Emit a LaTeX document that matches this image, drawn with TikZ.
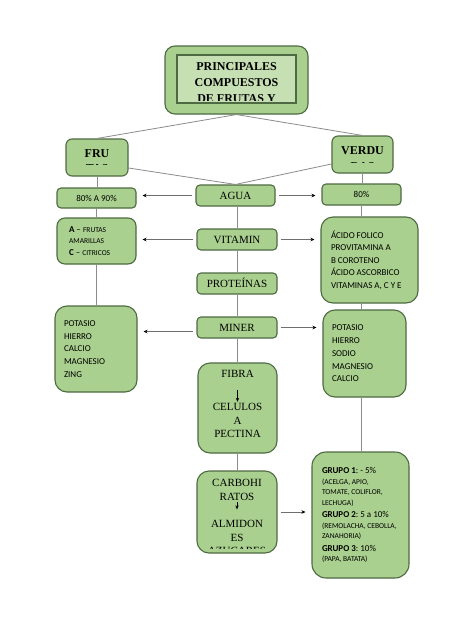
\documentclass[tikz,border=0pt]{standalone}
\usepackage{fontspec}
\setmainfont{Liberation Serif}
\newfontfamily\calfont{Carlito}
\usetikzlibrary{arrows.meta}
\definecolor{boxfill}{HTML}{A9D08E}
\definecolor{boxline}{HTML}{4E6A42}
\definecolor{innerfill}{HTML}{C6E0B4}
\definecolor{linkgray}{HTML}{8C8C8C}
\definecolor{arrgray}{HTML}{6E6E6E}
\newcommand\grsmall{\fontsize{7.5}{10.5}\selectfont}
\frenchspacing
\begin{document}
\begin{tikzpicture}[x=1pt,y=-1pt,
  box/.style={draw=boxline, fill=boxfill, line width=1.1pt, rounded corners=#1, inner sep=0pt},
  box/.default=4pt,
  seriff/.style={font=\fontsize{11}{13.5}\selectfont, text height=7.3pt, text depth=0pt},
  serifb/.style={font=\bfseries\fontsize{12}{14}\selectfont, inner sep=0pt, text height=8pt, text depth=0pt},
  serifm/.style={font=\fontsize{11}{13.5}\selectfont, inner sep=0pt, align=center},
  sansf/.style={font=\calfont\fontsize{9}{11}\selectfont},
  listbox/.style={box=12pt, align=flush left, font=\calfont\fontsize{9}{12.75}\selectfont, inner xsep=9pt},
  link/.style={draw=linkgray, line width=0.8pt},
  arr/.style={draw=arrgray, line width=0.8pt, -{Stealth[length=4pt,width=3.6pt,color=black]}, shorten <=3pt, shorten >=6pt},
  smallarr/.style={draw=black, line width=0.6pt, -{Stealth[length=4pt,width=3.4pt]}}
]
\useasboundingbox (0,0) rectangle (474,632);
\fill[white] (0,0) rectangle (474,632);

% ---- title
\node[box=10pt, minimum width=143pt, minimum height=68pt] (titleO) at (236.5,80) {};
\node[draw=boxline, fill=innerfill, line width=1.1pt, minimum width=119pt, minimum height=48pt, inner sep=0pt] (titleI) at (236.5,79) {};
\begin{scope}
  \clip ([yshift=3pt]titleI.south west) rectangle (titleI.north east);
  \node[anchor=north, inner sep=0pt, align=center, font=\bfseries\fontsize{12}{16}\selectfont] (titleT) at (236.5,62) {PRINCIPALES\\COMPUESTOS\\DE FRUTAS Y};
\end{scope}

% ---- FRU / VERDU
\node[box=6pt, minimum width=62pt, minimum height=37pt] (fru) at (97,157.5) {};
\node[serifb] (fruT) at (97,153) {FRU};
\begin{scope}
  \clip (fru.north west) rectangle ([yshift=12pt]fru.south east);
  \node[serifb] (fruC) at (97,168) {TAS};
\end{scope}
\node[box=6pt, minimum width=61pt, minimum height=37pt] (verdu) at (362.5,154.5) {};
\node[serifb] (verduT) at (362.5,150) {VERDU};
\begin{scope}
  \clip (verdu.north west) rectangle ([yshift=11pt]verdu.south east);
  \node[serifb] (verduC) at (362.5,166) {RAS};
\end{scope}

% ---- small boxes
\node[box, sansf, minimum width=79pt, minimum height=20pt] (p80L) at (96.5,198) {80\% A 90\%};
\node[box, sansf, minimum width=79pt, minimum height=21pt] (p80R) at (361.5,194.5) {80\%};
\node[box, seriff, minimum width=79pt, minimum height=21pt] (agua) at (235.5,195.5) {AGUA};
\node[box, seriff, minimum width=80pt, minimum height=21pt] (vitamin) at (237,239.5) {VITAMIN};
\node[box, seriff, minimum width=80pt, minimum height=21pt] (prot) at (237,283.5) {PROTEÍNAS};
\node[box, seriff, minimum width=80pt, minimum height=21pt] (miner) at (237,327.5) {MINER};

% ---- list boxes
\node[box=8pt, align=flush left, font=\calfont\fontsize{9}{11.5}\selectfont, inner xsep=12pt, text width=55pt, minimum width=79pt, minimum height=46pt] (abox) at (96.5,241)
  {\textbf{A} – {\fontsize{7.5}{11.5}\selectfont FRUTAS}\\{\fontsize{7.5}{11.5}\selectfont AMARILLAS}\\\textbf{C} – {\fontsize{7.5}{11.5}\selectfont CITRICOS}};
\node[listbox, font=\calfont\fontsize{9}{12.5}\selectfont, inner xsep=10pt, text width=77pt, minimum width=97pt, minimum height=86pt] (vitR) at (369.5,260)
  {ÁCIDO FOLICO\\PROVITAMINA A\\B COROTENO\\ÁCIDO ASCORBICO\\VITAMINAS A, C Y E};
\node[listbox, text width=64pt, minimum width=82pt, minimum height=86pt] (potL) at (96,349)
  {POTASIO\\HIERRO\\CALCIO\\MAGNESIO\\ZING};
\node[listbox, text width=65pt, minimum width=83pt, minimum height=87pt] (potR) at (364.5,353.5)
  {POTASIO\\HIERRO\\SODIO\\MAGNESIO\\CALCIO};
\node[box=14pt, align=flush left, font=\calfont\fontsize{9}{10.5}\selectfont, inner xsep=10pt, text width=77pt, minimum width=97pt, minimum height=126pt] (grupo) at (360.5,515)
  {\textbf{GRUPO 1}: - 5\%\\
   {\grsmall (ACELGA, APIO,}\\
   {\grsmall TOMATE, COLIFLOR,}\\
   {\grsmall LECHUGA)}\\[2pt]
   \textbf{GRUPO 2}: 5 a 10\%\\
   {\grsmall\mbox{(REMOLACHA, CEBOLLA,}}\\
   {\grsmall ZANAHORIA)}\\[2pt]
   \textbf{GRUPO 3}: 10\%\\
   {\grsmall (PAPA, BATATA)}};

% ---- FIBRA box
\node[box=12pt, minimum width=79pt, minimum height=90pt] (fibra) at (237.5,408) {};
\node[serifm] (fibraT) at (237.5,374) {FIBRA};
\node[serifm] (celT) at (237.5,420.5) {CELULOS\\A\\PECTINA};
\draw[smallarr, shorten <=12pt, shorten >=1.3pt] (fibraT) -- (celT);

% ---- CARBOHIDRATOS box
\node[box=12pt, minimum width=80pt, minimum height=82pt] (carb) at (237,512) {};
\node[serifm] (carbT) at (237,490) {CARBOHI\\RATOS};
\node[serifm] (almT) at (237,531) {ALMIDON\\ES};
\begin{scope}
  \clip (carb.north west) rectangle ([yshift=5pt]carb.south east);
  \node[serifm] (azuT) at (237,551.3) {AZUCARES};
\end{scope}
\draw[smallarr, shorten <=1.5pt, shorten >=11pt] (carbT) -- (almT);

% ---- links
\draw[link] (titleO.south) -- (fru.north);
\draw[link] (titleO.south) -- (verdu.north);
\draw[link] ([yshift=-10.5pt]fru.east) -- (agua.north);
\draw[link] ([yshift=-9.5pt]verdu.west) -- (agua.north);
\draw[link] (fru.south) -- (fru.south |- p80L.north);
\draw[link] (p80L.south) -- (p80L.south |- abox.north);
\draw[link] (abox.south) -- (abox.south |- potL.north);
\draw[link] (verdu.south) -- (verdu.south |- p80R.north);
\draw[link] (p80R.south) -- (p80R.south |- vitR.north);
\draw[link] (vitR.south -| p80R.south) -- (potR.north -| p80R.south);
\draw[link] (potR.south -| p80R.south) -- (grupo.north -| p80R.south);
\draw[link] (agua.south -| vitamin.north) -- (vitamin.north);
\draw[link] (vitamin) -- (prot);
\draw[link] (prot) -- (miner);
\draw[link] (miner.south) -- (miner.south |- fibra.north);
\draw[link] (fibra.south -| carb.north) -- (carb.north);

% ---- arrows
\draw[arr] (agua.west) -- (agua.west -| p80L.east);
\draw[arr] (agua.east) -- (agua.east -| p80R.west);
\draw[arr] (vitamin.west) -- (vitamin.west -| abox.east);
\draw[arr] (vitamin.east) -- (vitamin.east -| vitR.west);
\draw[arr] ([yshift=-4pt]miner.west) -- ([yshift=-4pt]miner.west -| potL.east);
\draw[arr] (miner.east) -- (miner.east -| potR.west);
\draw[arr] (carb.east) -- (carb.east -| grupo.west);
\end{tikzpicture}
\end{document}
